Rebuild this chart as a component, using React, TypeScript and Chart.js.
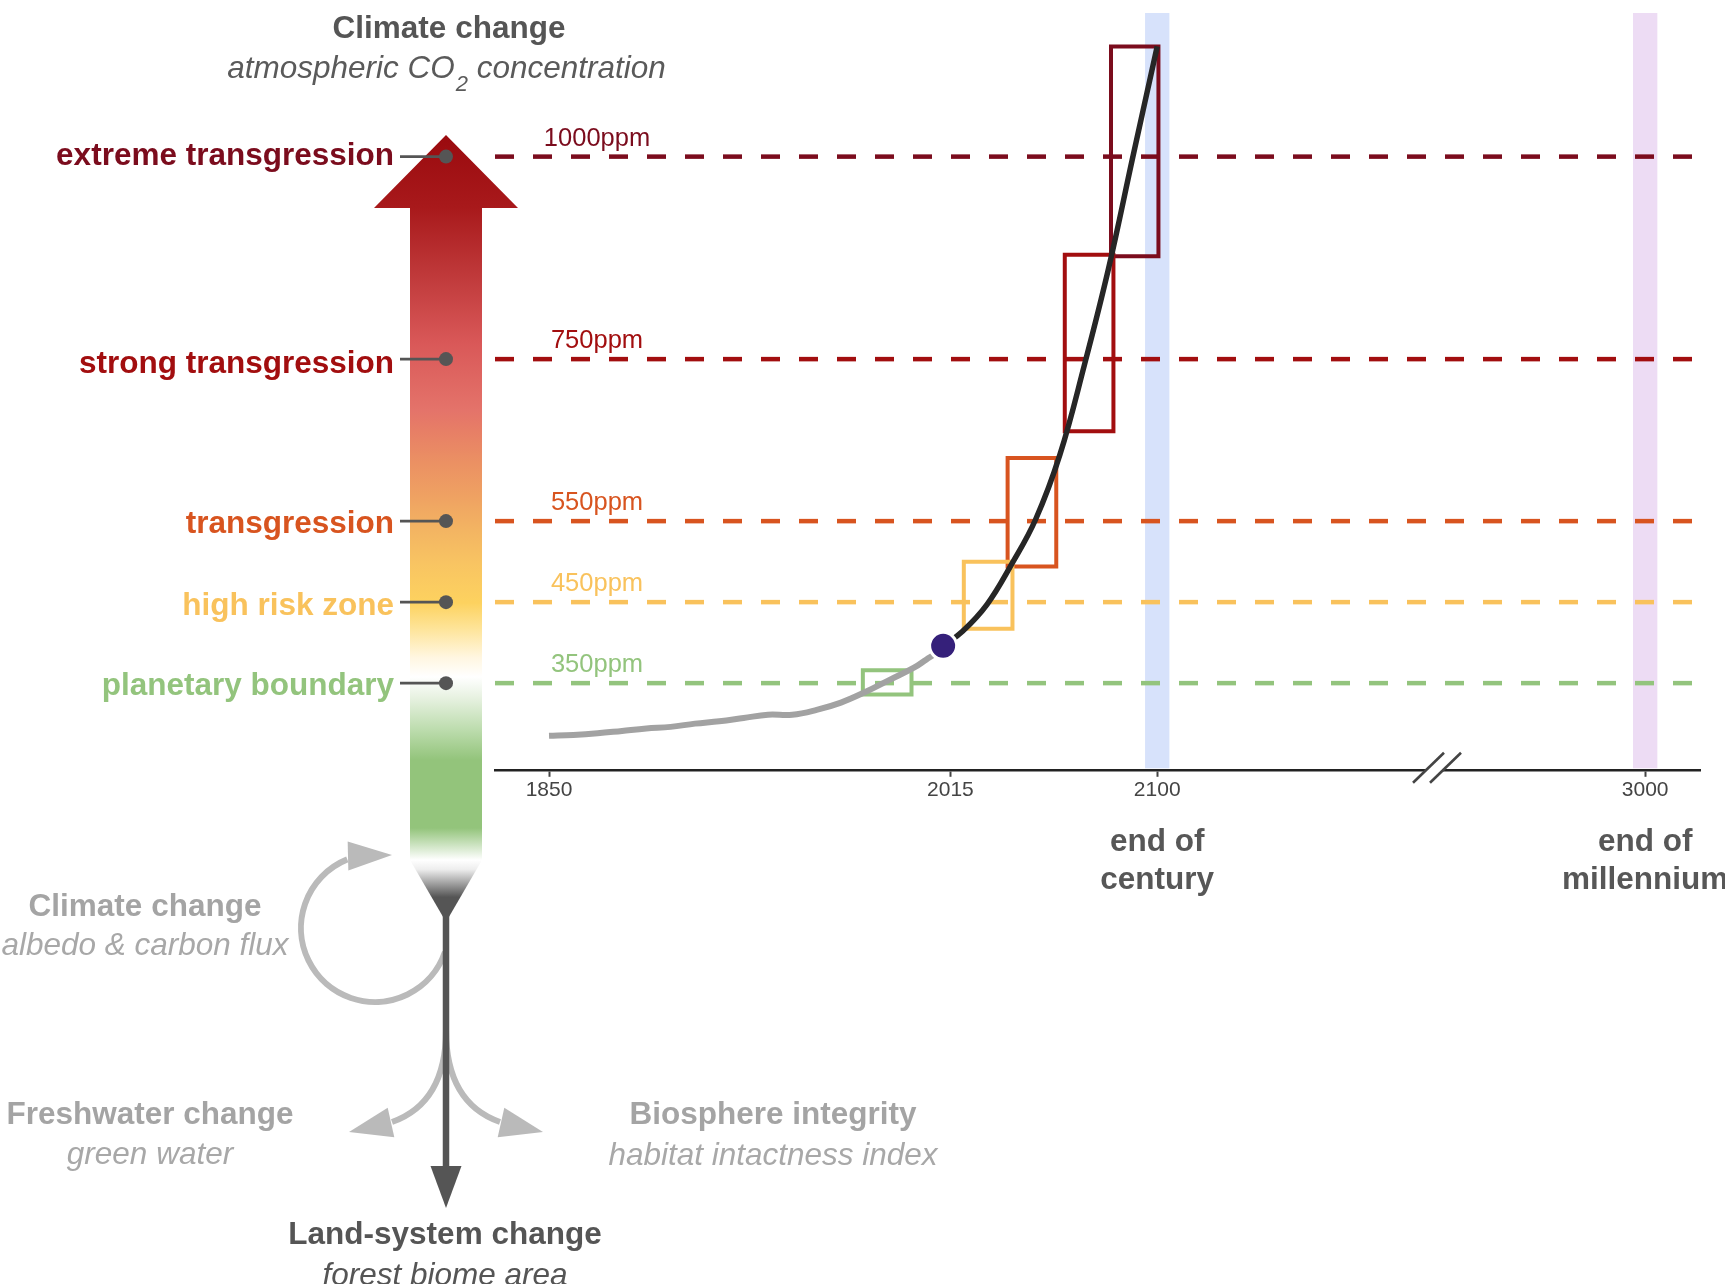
import React, { useEffect, useRef } from 'react';
import { Chart, registerables } from 'chart.js';

Chart.register(...registerables);

const WIDTH = 1725;
const HEIGHT = 1284;
const FONT = '"Liberation Sans", Arial, Helvetica, sans-serif';

// CO2 levels and the zone each one opens
const LEVEL_PPM = [350, 450, 550, 750, 1000];
const LEVEL_NAMES = ['planetary boundary', 'high risk zone', 'transgression', 'strong transgression', 'extreme transgression'];
const LEVEL_COLORS = ['#93c47d', '#f9c25c', '#d8541f', '#a20e0f', '#7b0c1d'];

// Observed concentration (ppm)
const HIST_YEARS = [1850, 1860, 1870, 1880, 1890, 1900, 1910, 1920, 1930, 1940, 1950, 1960, 1970, 1980, 1990, 2000, 2005, 2010, 2012];
const HIST_PPM = [285, 286, 288, 291, 294, 296, 300, 303, 307, 311, 311, 317, 326, 339, 354, 369, 379, 389, 396];

// Projected concentration (ppm)
const PROJ_YEARS = [2012, 2020, 2030, 2040, 2050, 2060, 2070, 2080, 2090, 2100];
const PROJ_PPM = [396, 414, 447, 496, 552, 632, 742, 862, 1000, 1136];

// Present-day marker
const NOW_YEAR = 2012;
const NOW_PPM = 396;

// Twenty-year windows in which each level is crossed
const WINDOW_START = [1979, 2020.5, 2038.5, 2062, 2081];
const WINDOW_END = [1999, 2040.5, 2058.5, 2082, 2100.5];
const WINDOW_LOW = [336, 417, 494, 661, 877];
const WINDOW_HIGH = [366, 500, 628, 879, 1136];

// Time axis
const TICK_YEARS = [1850, 2015, 2100, 3000];
const HORIZON_YEARS = [2100, 3000];
const HORIZON_COLORS = ['#d7e2fb', '#eddcf4'];
const HORIZON_LABELS = [['end of', 'century'], ['end of', 'millennium']];

// The axis runs in years up to the break, then squeezed out to the year 3000
const BREAK_YEAR = 2215;
const BREAK_SQUEEZE = 0.109;
const axisPos = (year: number) => (year <= BREAK_YEAR ? year : BREAK_YEAR + (year - BREAK_YEAR) * BREAK_SQUEEZE);

const X_MIN = 1827.8;
const X_MAX = 2323.1;
const Y_MIN = 243;
const Y_MAX = 1177.3;
const HORIZON_HALF = 5;

// Baseline offsets of the zone names relative to their pins
const NAME_DROP = [12, 13, 12, 14, 8];

// Colour ramp of the big vertical arrow (pixel row, colour)
const RAMP: [number, string][] = [
  [135, '#9a0a0e'],
  [207, '#a8191b'],
  [277, '#c03a3b'],
  [343, '#d95858'],
  [410, '#e4736a'],
  [430, '#e77e66'],
  [463, '#eb9163'],
  [497, '#efa262'],
  [530, '#f3b462'],
  [563, '#f8c462'],
  [603, '#fdd25f'],
  [630, '#fee59c'],
  [657, '#fff6e0'],
  [677, '#ffffff'],
  [697, '#e8f2e2'],
  [730, '#bcdcad'],
  [760, '#93c47b'],
  [828, '#93c47b'],
  [860, '#ffffff'],
];

const bold = (s: number) => `bold ${s}px ${FONT}`;
const italic = (s: number) => `italic ${s}px ${FONT}`;
const plain = (s: number) => `${s}px ${FONT}`;

function label(ctx: CanvasRenderingContext2D, str: string, x: number, y: number, font: string, color: string, align: CanvasTextAlign = 'center') {
  ctx.font = font;
  ctx.fillStyle = color;
  ctx.textAlign = align;
  ctx.textBaseline = 'alphabetic';
  ctx.fillText(str, x, y);
}

function arrowHead(ctx: CanvasRenderingContext2D, bx: number, by: number, tx: number, ty: number, half: number, color: string) {
  const dx = tx - bx;
  const dy = ty - by;
  const len = Math.hypot(dx, dy);
  const nx = -dy / len;
  const ny = dx / len;
  ctx.beginPath();
  ctx.moveTo(bx + nx * half, by + ny * half);
  ctx.lineTo(tx, ty);
  ctx.lineTo(bx - nx * half, by - ny * half);
  ctx.closePath();
  ctx.fillStyle = color;
  ctx.fill();
}

function drawCascade(ctx: CanvasRenderingContext2D, yPix: (v: number) => number) {
  const cx = 446;
  const tip = 135;
  const headBase = 208;
  const shaftEnd = 861;
  const headHalf = 72;
  const shaftHalf = 36;

  // big arrow, red at the top fading through yellow and white into green
  const ramp = ctx.createLinearGradient(0, tip, 0, shaftEnd);
  RAMP.forEach(([py, c]) => ramp.addColorStop((py - tip) / (shaftEnd - tip), c));
  ctx.beginPath();
  ctx.moveTo(cx, tip);
  ctx.lineTo(cx + headHalf, headBase);
  ctx.lineTo(cx + shaftHalf, headBase);
  ctx.lineTo(cx + shaftHalf, shaftEnd);
  ctx.lineTo(cx - shaftHalf, shaftEnd);
  ctx.lineTo(cx - shaftHalf, headBase);
  ctx.lineTo(cx - headHalf, headBase);
  ctx.closePath();
  ctx.fillStyle = ramp;
  ctx.fill();

  // funnel below the arrow
  const funnelTip = 922;
  const fun = ctx.createLinearGradient(0, shaftEnd - 1, 0, funnelTip);
  fun.addColorStop(0, '#ffffff');
  fun.addColorStop(0.15, '#eeeeee');
  fun.addColorStop(0.6, '#555555');
  fun.addColorStop(1, '#555555');
  ctx.beginPath();
  ctx.moveTo(cx - shaftHalf, shaftEnd - 1);
  ctx.lineTo(cx + shaftHalf, shaftEnd - 1);
  ctx.lineTo(cx, funnelTip);
  ctx.closePath();
  ctx.fillStyle = fun;
  ctx.fill();

  // feedback loop and side branches
  const grey = '#bababa';
  ctx.strokeStyle = grey;
  ctx.lineWidth = 6;
  ctx.lineCap = 'butt';
  ctx.beginPath();
  ctx.arc(375, 928, 74, (19 * Math.PI) / 180, (248 * Math.PI) / 180);
  ctx.stroke();
  arrowHead(ctx, 348, 856, 392, 855, 14.5, grey);

  ctx.beginPath();
  ctx.moveTo(cx, 1030);
  ctx.bezierCurveTo(cx, 1082, cx - 20, 1110, cx - 54, 1122);
  ctx.stroke();
  arrowHead(ctx, cx - 55, 1122.5, cx - 97, 1132, 15, grey);

  ctx.beginPath();
  ctx.moveTo(cx, 1030);
  ctx.bezierCurveTo(cx, 1082, cx + 20, 1110, cx + 54, 1122);
  ctx.stroke();
  arrowHead(ctx, cx + 55, 1122.5, cx + 97, 1132, 15, grey);

  // main downward link
  ctx.strokeStyle = '#555555';
  ctx.lineWidth = 6.5;
  ctx.beginPath();
  ctx.moveTo(cx, funnelTip - 8);
  ctx.lineTo(cx, 1170);
  ctx.stroke();
  ctx.beginPath();
  ctx.moveTo(cx - 15.5, 1166);
  ctx.lineTo(cx + 15.5, 1166);
  ctx.lineTo(cx, 1208);
  ctx.closePath();
  ctx.fillStyle = '#555555';
  ctx.fill();

  // zone names with pins on the arrow
  LEVEL_PPM.forEach((ppm, i) => {
    const py = yPix(ppm);
    ctx.strokeStyle = '#555555';
    ctx.lineWidth = 2.8;
    ctx.beginPath();
    ctx.moveTo(400, py);
    ctx.lineTo(cx, py);
    ctx.stroke();
    ctx.beginPath();
    ctx.arc(cx, py, 7, 0, Math.PI * 2);
    ctx.fillStyle = '#555555';
    ctx.fill();
    label(ctx, LEVEL_NAMES[i], 394, py + NAME_DROP[i], bold(31.5), LEVEL_COLORS[i], 'right');
  });

  // headline
  label(ctx, 'Climate change', 449, 37.5, bold(31.5), '#555555');
  const partA = 'atmospheric CO';
  const partB = '2';
  const partC = ' concentration';
  ctx.font = italic(31.5);
  const wA = ctx.measureText(partA).width;
  const wC = ctx.measureText(partC).width;
  ctx.font = italic(22);
  const wB = ctx.measureText(partB).width;
  const x0 = 446 - (wA + wB + wC) / 2;
  label(ctx, partA, x0, 78, italic(31.5), '#5a5a5a', 'left');
  label(ctx, partB, x0 + wA + 1, 91, italic(22), '#5a5a5a', 'left');
  label(ctx, partC, x0 + wA + wB + 1, 78, italic(31.5), '#5a5a5a', 'left');

  // linked boundaries
  const soft = '#a4a4a4';
  label(ctx, 'Climate change', 145, 916, bold(31.5), soft);
  label(ctx, 'albedo & carbon flux', 145, 955, italic(31.5), '#a8a8a8');
  label(ctx, 'Freshwater change', 150, 1124, bold(31.5), soft);
  label(ctx, 'green water', 150, 1164, italic(31.5), '#a8a8a8');
  label(ctx, 'Biosphere integrity', 773, 1124, bold(31.5), soft);
  label(ctx, 'habitat intactness index', 773, 1165, italic(31.5), '#a8a8a8');
  label(ctx, 'Land-system change', 445, 1244, bold(31.5), '#555555');
  label(ctx, 'forest biome area', 445, 1285, italic(31.5), '#555555');
}

const artwork = {
  id: 'artwork',
  beforeDatasetsDraw(chart: any) {
    const { ctx, chartArea: a, scales } = chart;
    ctx.save();
    HORIZON_YEARS.forEach((yr, i) => {
      const l = scales.x.getPixelForValue(axisPos(yr) - HORIZON_HALF);
      const r = scales.x.getPixelForValue(axisPos(yr) + HORIZON_HALF);
      ctx.fillStyle = HORIZON_COLORS[i];
      ctx.fillRect(l, a.top, r - l, a.bottom - a.top - 1.5);
    });
    ctx.restore();
  },
  afterDraw(chart: any) {
    const { ctx, chartArea: a, scales } = chart;
    const { x, y } = scales;
    ctx.save();

    // axis break marks
    const bx = x.getPixelForValue(BREAK_YEAR);
    const by = a.bottom;
    const slashX = (sx: number, yy: number) => sx - 15.5 + ((by + 13 - yy) * 31) / 30;
    const s1 = bx - 8.5;
    const s2 = bx + 8.5;
    ctx.fillStyle = '#ffffff';
    ctx.beginPath();
    ctx.moveTo(slashX(s1, by - 4), by - 4);
    ctx.lineTo(slashX(s2, by - 4), by - 4);
    ctx.lineTo(slashX(s2, by + 4), by + 4);
    ctx.lineTo(slashX(s1, by + 4), by + 4);
    ctx.closePath();
    ctx.fill();
    ctx.strokeStyle = '#444444';
    ctx.lineWidth = 2.6;
    [s1, s2].forEach((sx) => {
      ctx.beginPath();
      ctx.moveTo(slashX(sx, by + 13), by + 13);
      ctx.lineTo(slashX(sx, by - 17), by - 17);
      ctx.stroke();
    });

    // level values above the dashed lines
    LEVEL_PPM.forEach((ppm, i) => {
      label(ctx, `${ppm}ppm`, 597, y.getPixelForValue(ppm) - 11, plain(25.5), LEVEL_COLORS[i]);
    });

    // horizon captions
    HORIZON_YEARS.forEach((yr, i) => {
      const hx = x.getPixelForValue(axisPos(yr));
      label(ctx, HORIZON_LABELS[i][0], hx, 851, bold(31.5), '#575757');
      label(ctx, HORIZON_LABELS[i][1], hx, 889, bold(31.5), '#575757');
    });

    drawCascade(ctx, (v) => y.getPixelForValue(v));
    ctx.restore();
  },
};

function buildConfig(): any {
  const levelLines = LEVEL_PPM.map((ppm, i) => ({
    data: [
      { x: X_MIN, y: ppm },
      { x: X_MAX, y: ppm },
    ],
    borderColor: LEVEL_COLORS[i],
    borderWidth: 4.5,
    borderDash: [19, 19],
    borderCapStyle: 'butt',
    pointRadius: 0,
    order: 6,
  }));

  const windows = WINDOW_START.map((s, i) => {
    const e = WINDOW_END[i];
    const lo = WINDOW_LOW[i];
    const hi = WINDOW_HIGH[i];
    const mid = (s + e) / 2;
    return {
      data: [
        { x: mid, y: lo },
        { x: e, y: lo },
        { x: e, y: hi },
        { x: s, y: hi },
        { x: s, y: lo },
        { x: mid, y: lo },
      ],
      borderColor: LEVEL_COLORS[i],
      borderWidth: 4,
      borderJoinStyle: 'miter',
      tension: 0,
      pointRadius: 0,
      order: 5,
    };
  });

  const observed = {
    data: HIST_YEARS.map((yr, i) => ({ x: axisPos(yr), y: HIST_PPM[i] })),
    borderColor: '#a2a2a2',
    borderWidth: 6,
    tension: 0.4,
    borderJoinStyle: 'round',
    pointRadius: 0,
    order: 3,
  };

  const projected = {
    data: PROJ_YEARS.map((yr, i) => ({ x: axisPos(yr), y: PROJ_PPM[i] })),
    borderColor: '#262626',
    borderWidth: 5.5,
    tension: 0.4,
    borderJoinStyle: 'round',
    pointRadius: 0,
    order: 2,
  };

  const now = {
    data: [{ x: axisPos(NOW_YEAR), y: NOW_PPM }],
    showLine: false,
    pointRadius: 13.5,
    pointBackgroundColor: '#35207a',
    pointBorderColor: '#ffffff',
    pointBorderWidth: 3,
    order: 1,
  };

  return {
    type: 'line',
    data: { datasets: [...levelLines, ...windows, observed, projected, now] },
    options: {
      responsive: false,
      animation: false,
      devicePixelRatio: 1,
      events: [],
      layout: { autoPadding: false, padding: { left: 495, right: 25, top: 13, bottom: 480 } },
      plugins: {
        legend: { display: false },
        tooltip: { enabled: false },
        title: { display: false },
      },
      scales: {
        x: {
          type: 'linear',
          min: X_MIN,
          max: X_MAX,
          border: { display: true, color: '#222222', width: 2.6 },
          grid: {
            display: true,
            drawOnChartArea: false,
            drawTicks: true,
            tickLength: 7,
            tickColor: '#444444',
            tickWidth: 2,
          },
          afterBuildTicks: (axis: any) => {
            axis.ticks = TICK_YEARS.map((yr) => ({ value: axisPos(yr) }));
          },
          ticks: {
            autoSkip: false,
            maxRotation: 0,
            padding: 1,
            color: '#444444',
            font: { family: FONT, size: 21 },
            callback: (_v: number, index: number) => String(TICK_YEARS[index]),
          },
        },
        y: { type: 'linear', min: Y_MIN, max: Y_MAX, display: false },
      },
    },
    plugins: [artwork],
  };
}

export default function App() {
  const ref = useRef<HTMLCanvasElement>(null);
  useEffect(() => {
    const canvas = ref.current;
    if (!canvas) return;
    const chart = new Chart(canvas, buildConfig());
    return () => chart.destroy();
  }, []);
  return (
    <div style={{ position: 'absolute', left: 0, top: 0, width: WIDTH, height: HEIGHT, background: '#ffffff' }}>
      <canvas ref={ref} width={WIDTH} height={HEIGHT} style={{ display: 'block', width: WIDTH, height: HEIGHT }} />
    </div>
  );
}
